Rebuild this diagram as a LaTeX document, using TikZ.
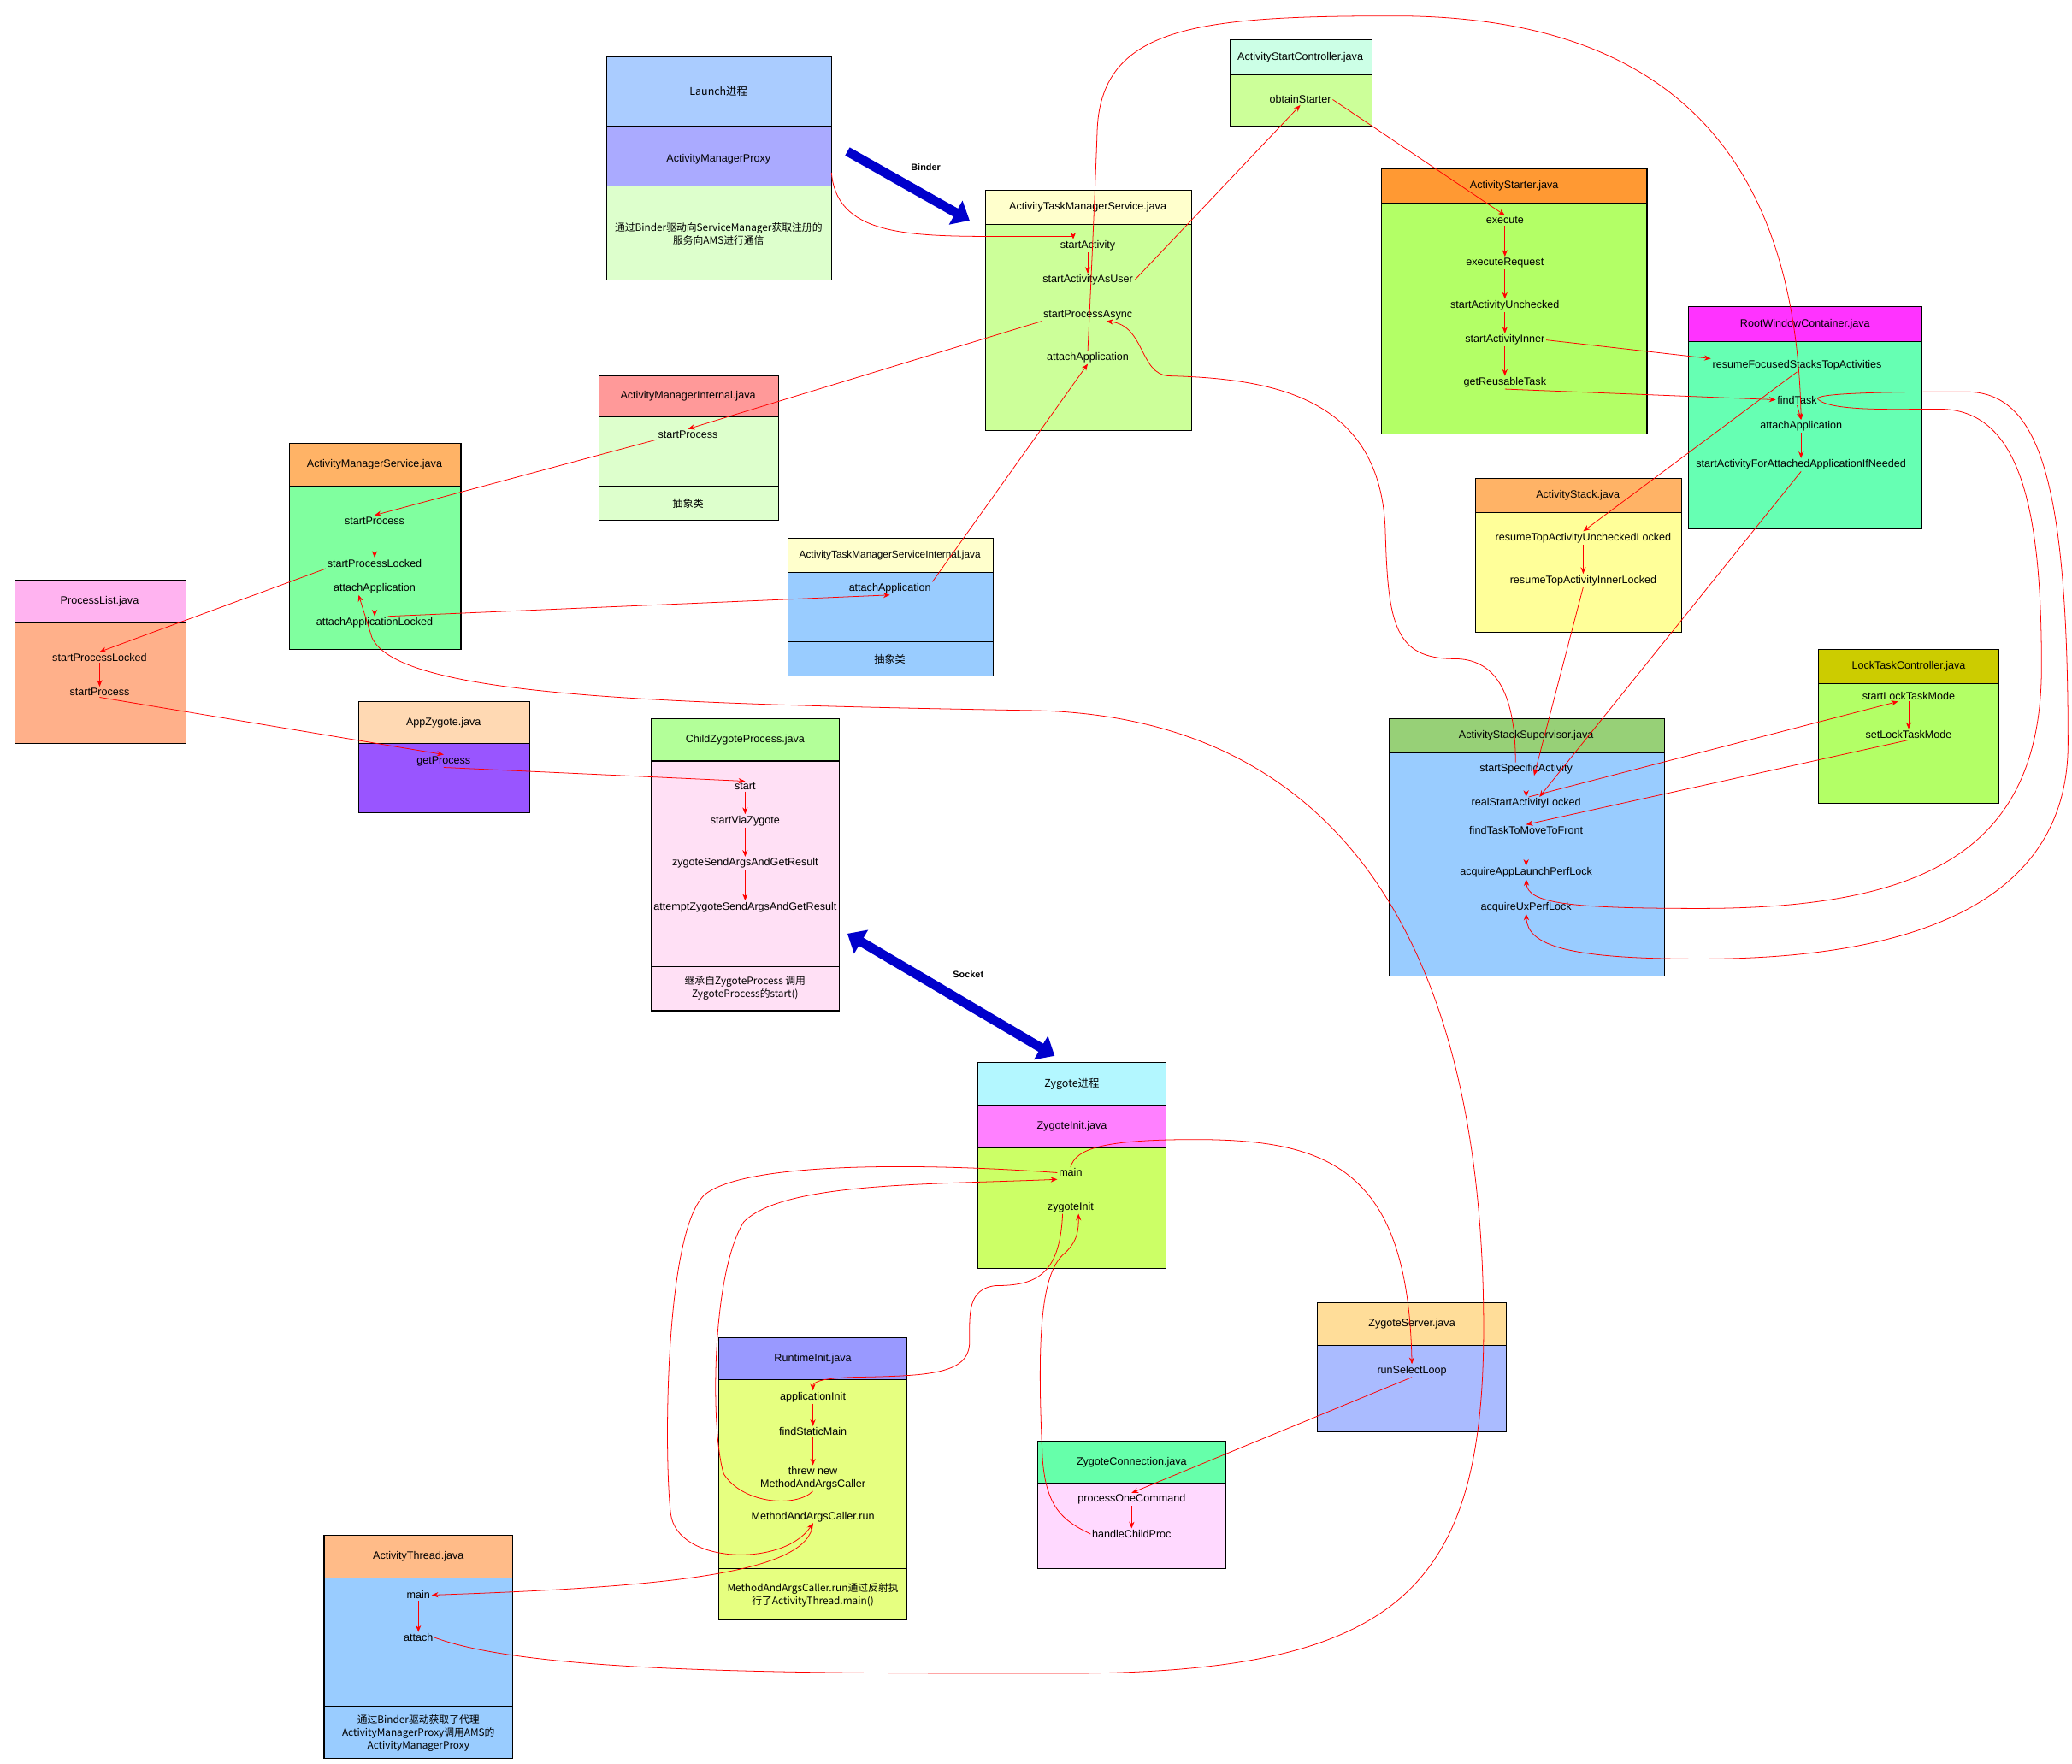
\documentclass[tikz,border=0pt]{standalone}
\usepackage{fontspec}
\setmainfont{Liberation Sans}
\newfontfamily\cjk{Noto Sans CJK SC}
\usetikzlibrary{arrows.meta}
\newcommand\bpart[5]{\path[draw=black,line width=0.7pt,fill=#5] (#1,#2) rectangle (#3,#4);}
\begin{document}
\begin{tikzpicture}[x=1pt,y=-1pt,
 it/.style={inner sep=1pt,font=\fontsize{8.1}{9.5}\selectfont},
 hd/.style={inner sep=1pt,font=\fontsize{8.1}{9.5}\selectfont},
 ar/.style={draw=red,line width=0.5pt,-{Stealth[length=5pt,width=4pt]}},
 big/.style={draw={rgb,255:red,0;green,0;blue,204},line width=7pt,-{Triangle[length=12pt,width=20pt]}},
 bigd/.style={draw={rgb,255:red,0;green,0;blue,204},line width=7pt,{Triangle[length=12pt,width=20pt]}-{Triangle[length=12pt,width=20pt]}}]
\useasboundingbox[fill=white] (0,0) rectangle (1560,1328);
% boxes
\definecolor{c1}{HTML}{AACCFF}\definecolor{c2}{HTML}{AAAAFF}\definecolor{c3}{HTML}{DDFFCC}
\bpart{457}{43}{626}{95}{c1}\bpart{457}{95}{626}{140}{c2}\bpart{457}{140}{626}{211}{c3}
\node[hd,font=\cjk\fontsize{8}{9}\selectfont] (launch) at (541,69) {Launch进程};
\node[hd] (proxy) at (541,120) {ActivityManagerProxy};
\node[hd,align=center,font=\cjk\fontsize{7.6}{10}\selectfont] (launchn) at (541,176) {通过Binder驱动向ServiceManager获取注册的\\服务向AMS进行通信};
% ASC
\bpart{926}{30}{1033}{56}{{rgb,255:red,204;green,255;blue,230}}\bpart{926}{56}{1033}{95}{{rgb,255:red,204;green,255;blue,153}}
\node[hd] (asch) at (979,43) {ActivityStartController.java};
\node[it] (asc1) at (979,75) {obtainStarter};
% ATMS
\bpart{742}{143}{897}{169}{{rgb,255:red,255;green,255;blue,204}}\bpart{742}{169}{897}{324}{{rgb,255:red,204;green,255;blue,153}}
\node[hd] (atmsh) at (819,156) {ActivityTaskManagerService.java};
\node[it] (atms1) at (819,185) {startActivity};
\node[it] (atms2) at (819,211) {startActivityAsUser};
\node[it] (atms3) at (819,237) {startProcessAsync};
\node[it] (atms4) at (819,269) {attachApplication};
% ActivityStarter
\bpart{1040}{127}{1240}{153}{{rgb,255:red,255;green,153;blue,51}}\bpart{1040}{153}{1240}{327}{{rgb,255:red,179;green,255;blue,102}}
\node[hd] (sth) at (1140,140) {ActivityStarter.java};
\node[it] (st1) at (1133,166) {execute};
\node[it] (st2) at (1133,198) {executeRequest};
\node[it] (st3) at (1133,230) {startActivityUnchecked};
\node[it] (st4) at (1133,256) {startActivityInner};
\node[it] (st5) at (1133,288) {getReusableTask};
% RWC
\bpart{1271}{231}{1447}{257}{{rgb,255:red,255;green,51;blue,255}}\bpart{1271}{257}{1447}{398}{{rgb,255:red,102;green,255;blue,179}}
\node[hd] (rwch) at (1359,244) {RootWindowContainer.java};
\node[it] (rwc1) at (1353,275) {resumeFocusedStacksTopActivities};
\node[it] (rwc2) at (1353,301) {findTask};
\node[it] (rwc3) at (1356,321) {attachApplication};
\node[it] (rwc4) at (1356,350) {startActivityForAttachedApplicationIfNeeded};
% AMI
\bpart{451}{283}{586}{314}{{rgb,255:red,255;green,153;blue,153}}\bpart{451}{314}{586}{366}{c3}\bpart{451}{366}{586}{392}{c3}
\node[hd] (amih) at (518,298) {ActivityManagerInternal.java};
\node[it] (ami1) at (518,327) {startProcess};
\node[it,font=\cjk\fontsize{7.8}{9}\selectfont] (amin) at (518,379) {抽象类};
% AMS
\bpart{218}{334}{347}{366}{{rgb,255:red,255;green,179;blue,102}}\bpart{218}{366}{347}{489}{{rgb,255:red,128;green,255;blue,159}}
\node[hd] (amsh) at (282,350) {ActivityManagerService.java};
\node[it] (ams1) at (282,392) {startProcess};
\node[it] (ams2) at (282,424) {startProcessLocked};
\node[it] (ams3) at (282,443) {attachApplication};
\node[it] (ams4) at (282,469) {attachApplicationLocked};
% ProcessList
\bpart{11}{437}{140}{469}{{rgb,255:red,255;green,179;blue,240}}\bpart{11}{469}{140}{560}{{rgb,255:red,255;green,176;blue,138}}
\node[hd] (plh) at (75,453) {ProcessList.java};
\node[it] (pl1) at (75,495) {startProcessLocked};
\node[it] (pl2) at (75,521) {startProcess};
% ATMSI
\bpart{593}{405}{748}{431}{{rgb,255:red,255;green,255;blue,204}}\bpart{593}{431}{748}{483}{{rgb,255:red,153;green,204;blue,255}}\bpart{593}{483}{748}{509}{{rgb,255:red,153;green,204;blue,255}}
\node[hd,font=\fontsize{7.6}{9}\selectfont] (atmsih) at (670,418) {ActivityTaskManagerServiceInternal.java};
\node[it] (atmsi1) at (670,443) {attachApplication};
\node[it,font=\cjk\fontsize{7.8}{9}\selectfont] (atmsin) at (670,496) {抽象类};
% ActivityStack
\bpart{1111}{360}{1266}{386}{{rgb,255:red,255;green,179;blue,102}}\bpart{1111}{386}{1266}{476}{{rgb,255:red,255;green,255;blue,153}}
\node[hd] (stkh) at (1188,373) {ActivityStack.java};
\node[it] (stk1) at (1192,405) {resumeTopActivityUncheckedLocked};
\node[it] (stk2) at (1192,437) {resumeTopActivityInnerLocked};
% LockTask
\bpart{1369}{489}{1505}{515}{{rgb,255:red,204;green,204;blue,0}}\bpart{1369}{515}{1505}{605}{{rgb,255:red,179;green,255;blue,102}}
\node[hd] (lth) at (1437,502) {LockTaskController.java};
\node[it] (lt1) at (1437,524) {startLockTaskMode};
\node[it] (lt2) at (1437,553) {setLockTaskMode};
% ASS
\bpart{1046}{541}{1253}{567}{{rgb,255:red,151;green,208;blue,119}}\bpart{1046}{567}{1253}{735}{{rgb,255:red,153;green,204;blue,255}}
\node[hd] (assh) at (1149,554) {ActivityStackSupervisor.java};
\node[it] (ass1) at (1149,579) {startSpecificActivity};
\node[it] (ass2) at (1149,605) {realStartActivityLocked};
\node[it] (ass3) at (1149,625) {findTaskToMoveToFront};
\node[it] (ass4) at (1149,657) {acquireAppLaunchPerfLock};
\node[it] (ass5) at (1149,683) {acquireUxPerfLock};
% AppZygote
\bpart{270}{528}{399}{560}{{rgb,255:red,255;green,217;blue,179}}\bpart{270}{560}{399}{612}{{rgb,255:red,153;green,85;blue,255}}
\node[hd] (azh) at (334,544) {AppZygote.java};
\node[it] (az1) at (334,573) {getProcess};
% ChildZygoteProcess
\bpart{490}{541}{632}{573}{{rgb,255:red,179;green,255;blue,153}}\bpart{490}{573}{632}{728}{{rgb,255:red,255;green,224;blue,245}}\bpart{490}{728}{632}{761}{{rgb,255:red,255;green,224;blue,245}}
\node[hd] (czh) at (561,557) {ChildZygoteProcess.java};
\node[it] (cz1) at (561,592) {start};
\node[it] (cz2) at (561,618) {startViaZygote};
\node[it] (cz3) at (561,650) {zygoteSendArgsAndGetResult};
\node[it] (cz4) at (561,683) {attemptZygoteSendArgsAndGetResult};
\node[it,align=center,font=\cjk\fontsize{7.6}{9.5}\selectfont] (czn) at (561,744) {继承自ZygoteProcess 调用\\ZygoteProcess的start()};
% Zygote
\bpart{736}{800}{878}{832}{{rgb,255:red,179;green,247;blue,255}}\bpart{736}{832}{878}{864}{{rgb,255:red,255;green,128;blue,255}}\bpart{736}{864}{878}{955}{{rgb,255:red,204;green,255;blue,102}}
\node[hd,font=\cjk\fontsize{8}{9}\selectfont] (zyh) at (807,816) {Zygote进程};
\node[hd] (zih) at (807,848) {ZygoteInit.java};
\node[it] (zi1) at (806,883) {main};
\node[it] (zi2) at (806,909) {zygoteInit};
% ZygoteServer
\bpart{992}{981}{1134}{1013}{{rgb,255:red,255;green,221;blue,153}}\bpart{992}{1013}{1134}{1078}{{rgb,255:red,170;green,187;blue,255}}
\node[hd] (zsh) at (1063,997) {ZygoteServer.java};
\node[it] (zs1) at (1063,1032) {runSelectLoop};
% ZygoteConnection
\bpart{781}{1085}{923}{1117}{{rgb,255:red,102;green,255;blue,170}}\bpart{781}{1117}{923}{1181}{{rgb,255:red,255;green,217;blue,255}}
\node[hd] (zch) at (852,1101) {ZygoteConnection.java};
\node[it] (zc1) at (852,1129) {processOneCommand};
\node[it] (zc2) at (852,1155) {handleChildProc};
% RuntimeInit
\bpart{541}{1007}{683}{1039}{{rgb,255:red,153;green,153;blue,255}}\bpart{541}{1039}{683}{1181}{{rgb,255:red,230;green,255;blue,128}}\bpart{541}{1181}{683}{1220}{{rgb,255:red,230;green,255;blue,128}}
\node[hd] (rih) at (612,1023) {RuntimeInit.java};
\node[it] (ri1) at (612,1052) {applicationInit};
\node[it] (ri2) at (612,1078) {findStaticMain};
\node[it,align=center] (ri3) at (612,1113) {threw new\\MethodAndArgsCaller};
\node[it] (ri4) at (612,1142) {MethodAndArgsCaller.run};
\node[it,align=center,font=\cjk\fontsize{7.6}{9.5}\selectfont] (rin) at (612,1201) {MethodAndArgsCaller.run通过反射执\\行了ActivityThread.main()};
% ActivityThread
\bpart{244}{1156}{386}{1188}{{rgb,255:red,255;green,187;blue,136}}\bpart{244}{1188}{386}{1285}{{rgb,255:red,153;green,204;blue,255}}\bpart{244}{1285}{386}{1324}{{rgb,255:red,153;green,204;blue,255}}
\node[hd] (ath) at (315,1172) {ActivityThread.java};
\node[it] (at1) at (315,1201) {main};
\node[it] (at2) at (315,1233) {attach};
\node[it,align=center,font=\cjk\fontsize{7.6}{9.5}\selectfont] (atn) at (315,1305) {通过Binder驱动获取了代理\\ActivityManagerProxy调用AMS的\\ActivityManagerProxy};
% big arrows
\coordinate (b1) at (638,114); \coordinate (b2) at (730,166);
\draw[big] (b1) -- (b2);
\node[font=\bfseries\fontsize{7}{8}\selectfont] (binder) at (697,126) {Binder};
\coordinate (s1) at (638,703); \coordinate (s2) at (794,795);
\draw[bigd] (s1) -- (s2);
\node[font=\bfseries\fontsize{7}{8}\selectfont] (socket) at (729,734) {Socket};
% vertical arrows
\foreach \a/\b in {atms1/atms2,st1/st2,st2/st3,st3/st4,st4/st5,rwc2/rwc3,rwc3/rwc4,ams1/ams2,ams3/ams4,pl1/pl2,stk1/stk2,lt1/lt2,ass1/ass2,ass3/ass4,cz1/cz2,cz2/cz3,cz3/cz4,zc1/zc2,ri1/ri2,ri2/ri3,at1/at2}
  \draw[ar] (\a.south) -- (\b.north);
% straight connectors
\draw[ar] (atms2.east) -- (asc1.south);
\draw[ar] (asc1.east) -- (st1.north);
\draw[ar] (st4.east) -- (rwc1.north west);
\draw[ar] (st5.south) -- (rwc2.west);
\draw[ar] (rwc1.south) -- (stk1.north);
\draw[ar] (stk2.south) -- ([xshift=6pt]ass1.south);
\draw[ar] (rwc4.south) -- ([xshift=10pt]ass2.north);
\draw[ar] ([xshift=2pt]ass2.north) -- ([xshift=-8pt]lt1.south);
\draw[ar] (lt2.south) -- (ass3.north);
\draw[ar] (atms3.south west) -- (ami1.north);
\draw[ar] (ami1.south west) -- (ams1.north);
\draw[ar] (ams2.south west) -- (pl1.north);
\draw[ar] (pl2.south) -- (az1.north);
\draw[ar] (az1.south) -- (cz1.north);
\draw[ar] ([xshift=10pt]ams4.north) -- (atmsi1.south);
\draw[ar] (atmsi1.north east) -- (atms4.south);
\draw[ar] (zs1.south) -- (zc1.north);
% curves
\draw[ar] (626,130) .. controls (630,176) and (680,178) .. (750,178) -- (808,178) -- ([xshift=-11pt]atms1.north);
\draw[ar] (atms4.north) .. controls (822,200) and (825,130) .. (826,100) .. controls (828,20) and (900,12) .. (1050,12) .. controls (1260,12) and (1352,120) .. (rwc3.north);
\draw[ar] ([xshift=-8pt]ass1.north) .. controls (1141,520) and (1125,496) .. (1095,496) .. controls (1050,496) and (1045,470) .. (1043,400) .. controls (1040,300) and (960,285) .. (880,283) .. controls (858,282) and (862,245) .. ([xshift=14pt]atms3.south);
\draw[ar] (rwc2.east) .. controls (1380,310) and (1430,308) .. (1460,308) .. controls (1520,308) and (1537,380) .. (1537,500) .. controls (1538,640) and (1450,684) .. (1280,684) .. controls (1180,684) and (1150,680) .. (ass4.south);
\draw[ar] (rwc2.east) .. controls (1362,296) and (1420,295) .. (1480,295) .. controls (1535,295) and (1557,360) .. (1557,560) .. controls (1557,690) and (1420,722) .. (1280,722) .. controls (1180,722) and (1150,712) .. (ass5.south);
\draw[ar] (at2.east) .. controls (400,1260) and (600,1260) .. (800,1260) .. controls (1050,1260) and (1117,1200) .. (1117,1000) .. controls (1117,700) and (1000,540) .. (780,535) .. controls (500,530) and (300,525) .. (280,480) -- ([xshift=-12pt]ams3.south);
\draw[ar] (zi1.north) .. controls (810,865) and (830,858) .. (900,858) .. controls (1000,858) and (1060,880) .. (zs1.north);
\draw[ar] ([xshift=-6pt]zi2.south) .. controls (798,960) and (780,968) .. (750,968) .. controls (728,970) and (730,990) .. (730,1010) .. controls (730,1035) and (700,1036) .. (640,1037) .. controls (620,1038) and (612,1040) .. (ri1.north);
\draw[ar] (zi1.west) .. controls (700,876) and (560,874) .. (530,900) .. controls (500,930) and (500,1100) .. (505,1140) .. controls (510,1178) and (590,1180) .. (ri4.south);
\draw[ar] (ri3.south) .. controls (600,1135) and (560,1133) .. (545,1110) .. controls (535,1080) and (535,960) .. (560,920) .. controls (590,890) and (700,892) .. ([yshift=-5pt]zi1.west);
\draw[ar] (zc2.west) .. controls (800,1145) and (788,1135) .. (785,1100) .. controls (780,1000) and (785,960) .. (800,945) .. controls (812,935) and (812,925) .. ([xshift=6pt]zi2.south);
\draw[ar] (ri4.south) .. controls (610,1185) and (500,1195) .. (at1.east);
\end{tikzpicture}
\end{document}
